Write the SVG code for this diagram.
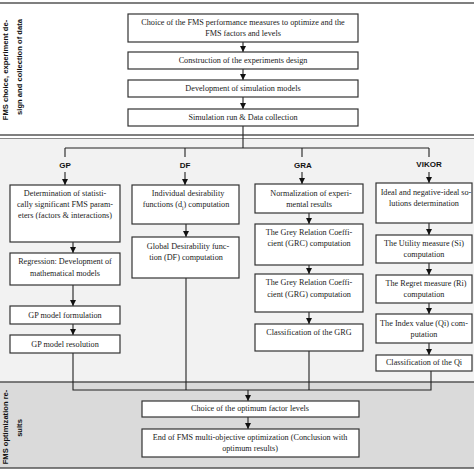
<svg xmlns="http://www.w3.org/2000/svg" width="474" height="474" viewBox="0 0 474 474">
<defs>
<style>
.sec{stroke:#555;stroke-width:1.5}
.box{fill:#fff;stroke:#333;stroke-width:1.2}
.t{font-family:"Liberation Serif","Times New Roman",serif;font-size:8.2px;fill:#222;text-anchor:middle}
.lb{font-family:"Liberation Sans",Arial,sans-serif;font-size:8px;font-weight:bold;fill:#111;text-anchor:middle}
.sl{font-family:"Liberation Sans",Arial,sans-serif;font-size:7.6px;font-weight:bold;fill:#111;text-anchor:middle}
.c{fill:none;stroke:#222;stroke-width:1.1}
.a{fill:none;stroke:#222;stroke-width:1.1;marker-end:url(#ah)}
</style>
<marker id="ah" markerUnits="userSpaceOnUse" markerWidth="6" markerHeight="6" refX="6" refY="3" orient="auto">
<path d="M0,0 L6,3 L0,6 z" fill="#111"/>
</marker>
</defs>
<rect x="0" y="0" width="474" height="474" fill="#fff"/>
<g id="sections">
<rect x="0" y="3" width="474" height="132" fill="#fff"/>
<rect x="0" y="138" width="474" height="244" fill="#f2f2f2"/>
<rect x="0" y="382" width="474" height="86" fill="#dadada"/>
<line class="sec" x1="0" y1="3" x2="474" y2="3"/>
<line class="sec" x1="0" y1="135" x2="474" y2="135"/>
<line x1="0" y1="138.5" x2="474" y2="138.5" stroke="#888" stroke-width="1"/>
<line class="sec" x1="0" y1="382" x2="474" y2="382"/>
<line class="sec" x1="0" y1="468" x2="474" y2="468"/>
<text class="sl" transform="translate(8,70) rotate(-90)">FMS choice, experiment de-</text>
<text class="sl" transform="translate(22,67) rotate(-90)">sign and collection of data</text>
<text class="sl" transform="translate(8,427) rotate(-90)">FMS optimization re-</text>
<text class="sl" transform="translate(22,428) rotate(-90)">sults</text>
</g>
<g id="connectors">
<line class="a" x1="243" y1="42" x2="243" y2="52"/>
<line class="a" x1="243" y1="69" x2="243" y2="80"/>
<line class="a" x1="243" y1="97" x2="243" y2="109"/>
<line class="c" x1="243" y1="126" x2="243" y2="148"/>
<line class="c" x1="65" y1="148" x2="429" y2="148"/>
<line class="c" x1="65" y1="148" x2="65" y2="157"/>
<line class="a" x1="65" y1="172" x2="65" y2="185"/>
<line class="c" x1="185" y1="148" x2="185" y2="157"/>
<line class="a" x1="185" y1="172" x2="185" y2="185"/>
<line class="c" x1="302" y1="148" x2="302" y2="157"/>
<line class="a" x1="302" y1="172" x2="302" y2="184"/>
<line class="c" x1="429" y1="148" x2="429" y2="157"/>
<line class="a" x1="429" y1="172" x2="429" y2="183"/>
<line class="a" x1="73" y1="242" x2="73" y2="253"/>
<line class="a" x1="73" y1="285" x2="73" y2="306"/>
<line class="a" x1="73" y1="324" x2="73" y2="335"/>
<line class="a" x1="186" y1="224" x2="186" y2="237"/>
<line class="a" x1="309" y1="213" x2="309" y2="224"/>
<line class="a" x1="309" y1="265" x2="309" y2="274"/>
<line class="a" x1="309" y1="312" x2="309" y2="324"/>
<line class="a" x1="429" y1="223" x2="429" y2="235"/>
<line class="a" x1="429" y1="263" x2="429" y2="275"/>
<line class="a" x1="429" y1="303" x2="429" y2="314"/>
<line class="a" x1="429" y1="343" x2="429" y2="355"/>
<polyline class="c" points="73,353 73,390 431,390 431,371"/>
<line class="c" x1="186" y1="278" x2="186" y2="390"/>
<line class="c" x1="309" y1="351" x2="309" y2="390"/>
<line class="a" x1="248" y1="390" x2="248" y2="401"/>
<line class="a" x1="248" y1="417" x2="248" y2="429"/>
</g>
<g id="labels">
<text class="lb" x="65" y="168">GP</text>
<text class="lb" x="185" y="168">DF</text>
<text class="lb" x="303" y="168">GRA</text>
<text class="lb" x="429" y="167">VIKOR</text>
</g>
<g id="n1"><rect class="box" x="128" y="14" width="230" height="28"/>
<text class="t" x="243" y="25">Choice of the FMS performance measures to optimize and the</text>
<text class="t" x="243" y="36">FMS factors and levels</text></g>
<g id="n2"><rect class="box" x="128" y="52" width="230" height="17"/>
<text class="t" x="243" y="63">Construction of the experiments design</text></g>
<g id="n3"><rect class="box" x="128" y="80" width="230" height="17"/>
<text class="t" x="243" y="91">Development of simulation models</text></g>
<g id="n4"><rect class="box" x="128" y="109" width="230" height="17"/>
<text class="t" x="243" y="120">Simulation run &amp; Data collection</text></g>
<g id="gp1"><rect class="box" x="10" y="185" width="110" height="57"/>
<text class="t" x="65" y="196">Determination of statisti-</text>
<text class="t" x="65" y="207">cally significant FMS param-</text>
<text class="t" x="65" y="218">eters (factors &amp; interactions)</text></g>
<g id="gp2"><rect class="box" x="10" y="253" width="110" height="32"/>
<text class="t" x="65" y="264">Regression: Development of</text>
<text class="t" x="65" y="276">mathematical models</text></g>
<g id="gp3"><rect class="box" x="10" y="306" width="110" height="18"/>
<text class="t" x="65" y="318">GP model formulation</text></g>
<g id="gp4"><rect class="box" x="10" y="335" width="110" height="18"/>
<text class="t" x="65" y="347">GP model resolution</text></g>
<g id="df1"><rect class="box" x="132" y="185" width="107" height="39"/>
<text class="t" x="188" y="196">Individual desirability</text>
<text class="t" x="186" y="207">functions (d<tspan font-size="5.5" baseline-shift="sub">i</tspan>) computation</text></g>
<g id="df2"><rect class="box" x="132" y="237" width="107" height="41"/>
<text class="t" x="188" y="249">Global Desirability func-</text>
<text class="t" x="186" y="260">tion (DF) computation</text></g>
<g id="gra1"><rect class="box" x="255" y="184" width="108" height="29"/>
<text class="t" x="311" y="196">Normalization of experi-</text>
<text class="t" x="309" y="207">mental results</text></g>
<g id="gra2"><rect class="box" x="255" y="224" width="108" height="41"/>
<text class="t" x="309" y="235">The Grey Relation Coeffi-</text>
<text class="t" x="309" y="246">cient (GRC) computation</text></g>
<g id="gra3"><rect class="box" x="255" y="274" width="108" height="38"/>
<text class="t" x="309" y="285">The Grey Relation Coeffi-</text>
<text class="t" x="309" y="297">cient (GRG) computation</text></g>
<g id="gra4"><rect class="box" x="255" y="324" width="108" height="27"/>
<text class="t" x="309" y="335">Classification of the GRG</text></g>
<g id="v1"><rect class="box" x="376" y="183" width="96" height="40"/>
<text class="t" x="426" y="195">Ideal and negative-ideal so-</text>
<text class="t" x="424" y="206">lutions determination</text></g>
<g id="v2"><rect class="box" x="376" y="235" width="96" height="28"/>
<text class="t" x="424" y="246">The Utility measure (Si)</text>
<text class="t" x="424" y="257">computation</text></g>
<g id="v3"><rect class="box" x="376" y="275" width="96" height="28"/>
<text class="t" x="426" y="286">The Regret measure (Ri)</text>
<text class="t" x="424" y="297">computation</text></g>
<g id="v4"><rect class="box" x="376" y="314" width="96" height="29"/>
<text class="t" x="424" y="326">The Index value (Qi) com-</text>
<text class="t" x="424" y="337">putation</text></g>
<g id="v5"><rect class="box" x="376" y="355" width="96" height="16"/>
<text class="t" x="424" y="365">Classification of the Qi</text></g>
<g id="b1"><rect class="box" x="142" y="401" width="217" height="16"/>
<text class="t" x="250" y="411">Choice of the optimum factor levels</text></g>
<g id="b2"><rect class="box" x="142" y="429" width="217" height="28"/>
<text class="t" x="250" y="440">End of FMS multi-objective optimization (Conclusion with</text>
<text class="t" x="250" y="451">optimum results)</text></g>
</svg>
